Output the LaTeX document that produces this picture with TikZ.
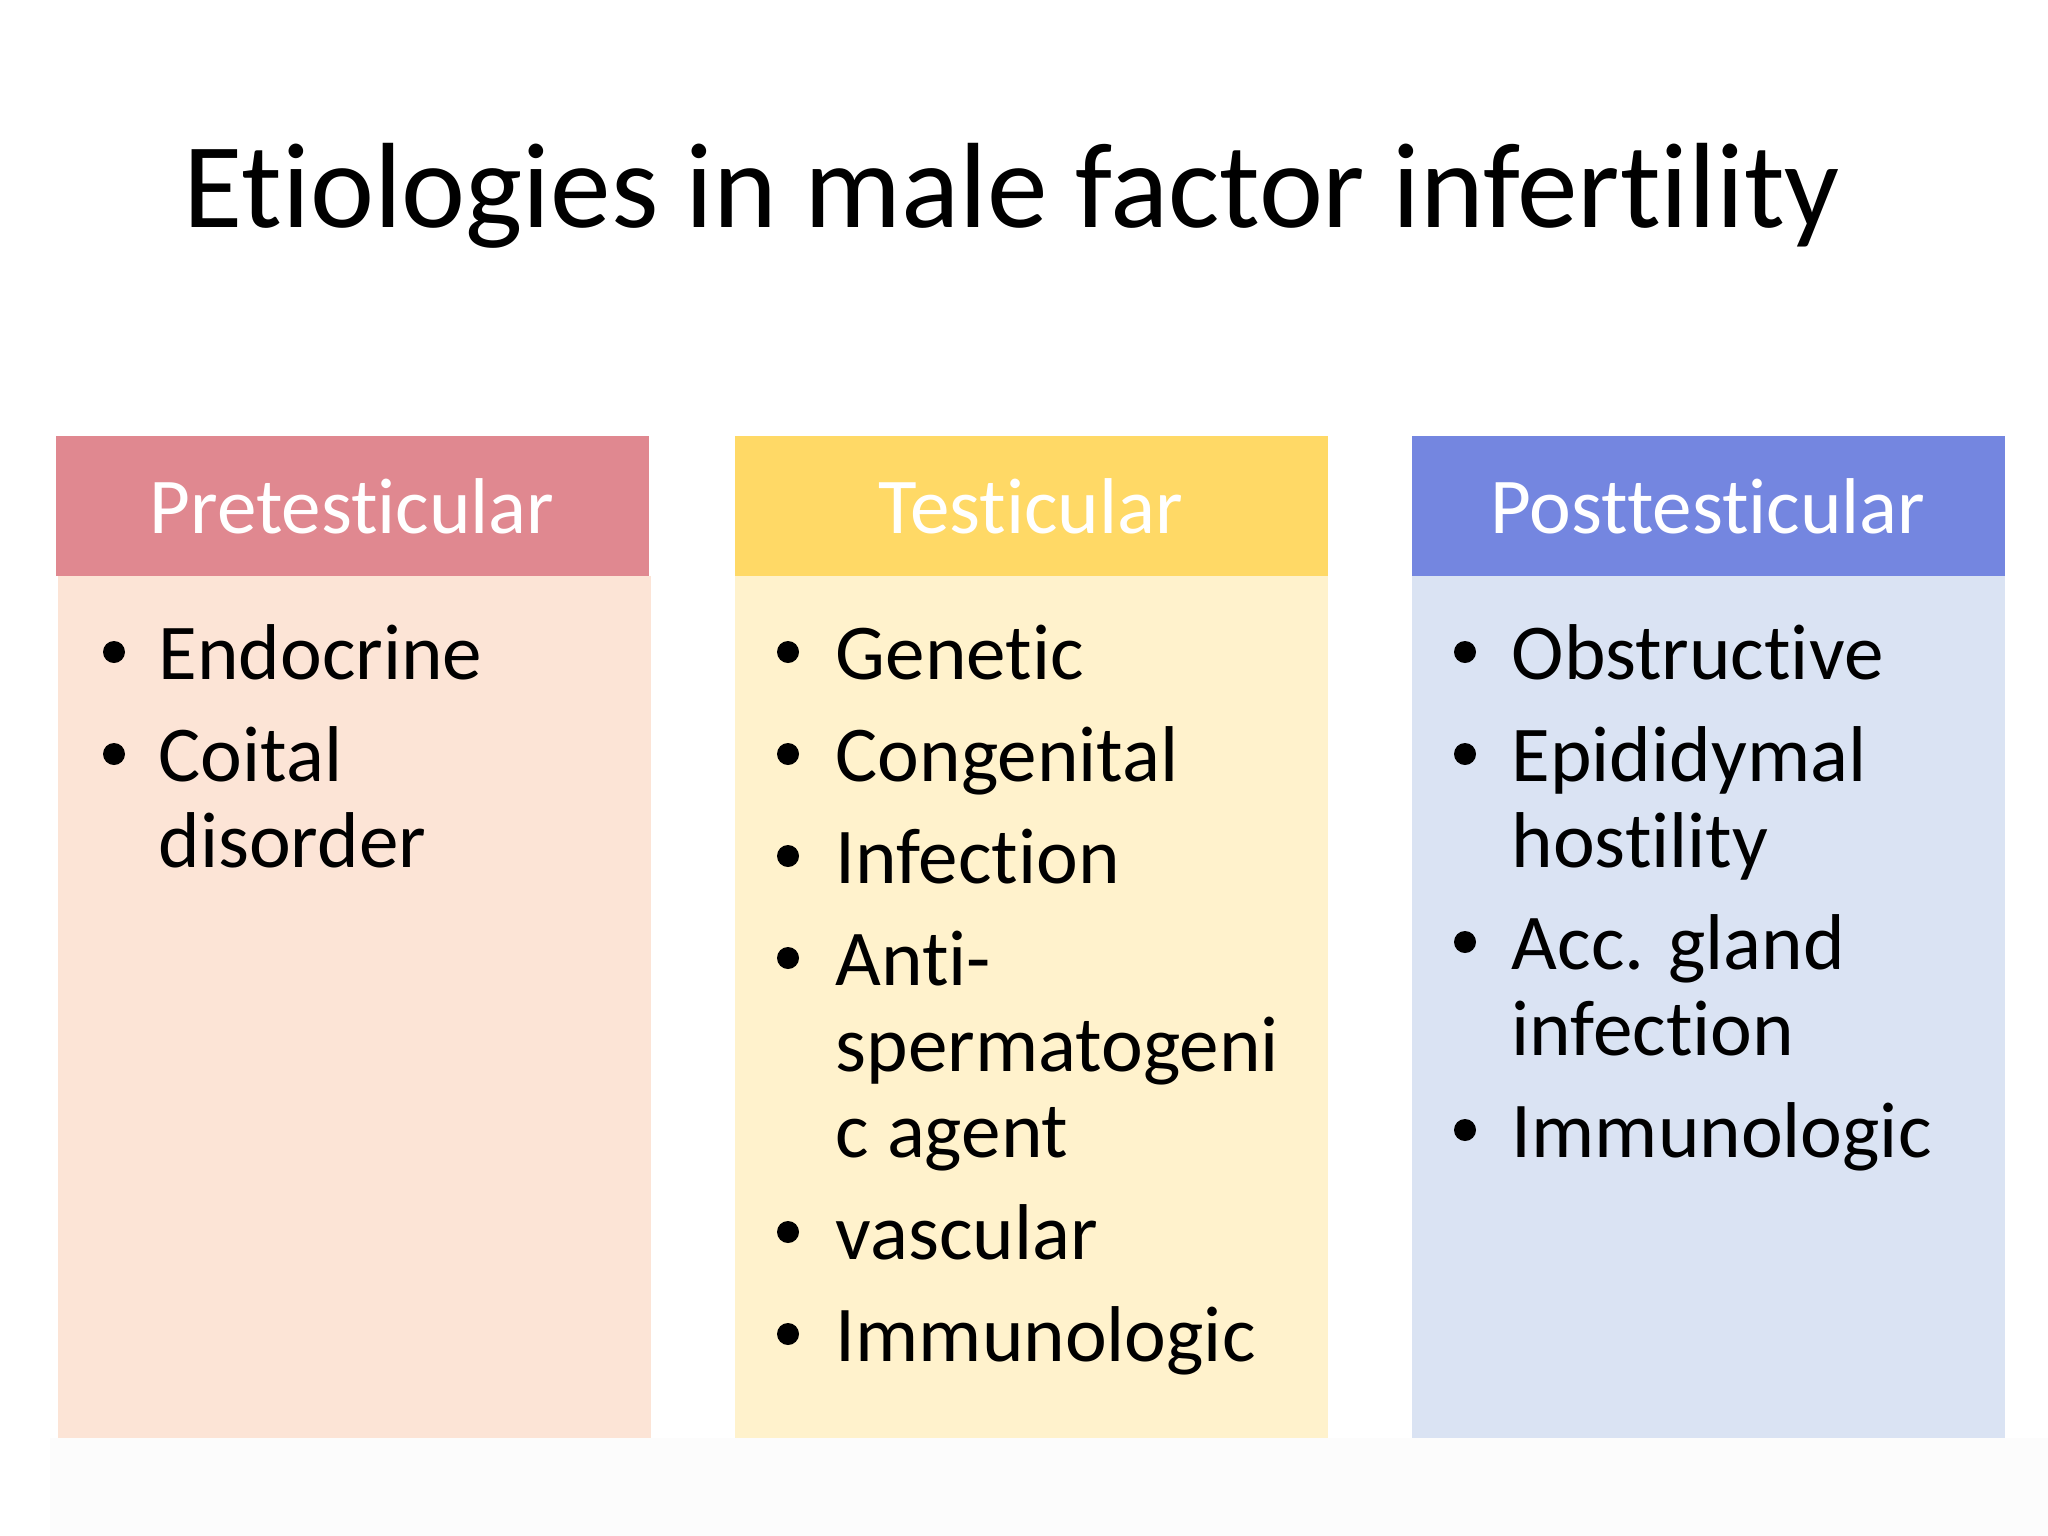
\documentclass[tikz,border=0pt]{standalone}
\usepackage{fontspec}
\setmainfont[Ligatures=NoCommon]{Carlito}
\definecolor{hA}{RGB}{224,136,144}
\definecolor{bA}{RGB}{252,228,214}
\definecolor{hB}{RGB}{255,217,102}
\definecolor{bB}{RGB}{255,242,204}
\definecolor{hC}{RGB}{116,134,224}
\definecolor{bC}{RGB}{218,227,243}
\tikzset{
 hdr/.style={font=\fontsize{22.5}{27}\selectfont, text=white},
 itm/.style={font=\fontsize{22.5}{27}\selectfont, anchor=base west, inner sep=0pt},
 blt/.style={fill=black, draw=none}
}
\begin{document}
\begin{tikzpicture}[x=0.01cm,y=-0.01cm]
\useasboundingbox (0,0) rectangle (2048,1536);
\fill[white] (0,0) rectangle (2048,1536);
\fill[gray!2] (50,1438) rectangle (2048,1536);
\node[font=\fontsize{34.5}{40}\selectfont, anchor=base] (title) at (1012,227) {Etiologies in male factor infertility};
\fill[bA] (58,576) rectangle (651,1438);
\fill[hA] (56,436) rectangle (649,576);
\fill[bB] (735,576) rectangle (1328,1438);
\fill[hB] (735,436) rectangle (1328,576);
\fill[bC] (1412,576) rectangle (2005,1438);
\fill[hC] (1412,436) rectangle (2005,576);
\node[hdr] (h1) at (352,506) {Pretesticular};
\node[hdr] (h2) at (1031,506) {Testicular};
\node[hdr] (h3) at (1708,506) {Posttesticular};
\foreach \y in {679,781} \fill[blt] (114,\y-27) circle (11);
\node[itm] (a1) at (158,679) {Endocrine};
\node[itm] (a2) at (158,781) {Coital};
\node[itm] (a3) at (158,867) {disorder};
\foreach \y in {679,781,883,985,1259,1361} \fill[blt] (788,\y-27) circle (11);
\node[itm] (b1) at (835,679) {Genetic};
\node[itm] (b2) at (835,781) {Congenital};
\node[itm] (b3) at (835,883) {Infection};
\node[itm] (b4) at (835,985) {Anti-};
\node[itm] (b5) at (835,1071) {spermatogeni};
\node[itm] (b6) at (835,1157) {c agent};
\node[itm] (b7) at (835,1259) {vascular};
\node[itm] (b8) at (835,1361) {Immunologic};
\foreach \y in {679,781,969,1157} \fill[blt] (1465,\y-27) circle (11);
\node[itm] (c1) at (1511,679) {Obstructive};
\node[itm] (c2) at (1511,781) {Epididymal};
\node[itm] (c3) at (1511,867) {hostility};
\node[itm] (c4) at (1511,969) {Acc. gland};
\node[itm] (c5) at (1511,1055) {infection};
\node[itm] (c6) at (1511,1157) {Immunologic};
\end{tikzpicture}
\end{document}
